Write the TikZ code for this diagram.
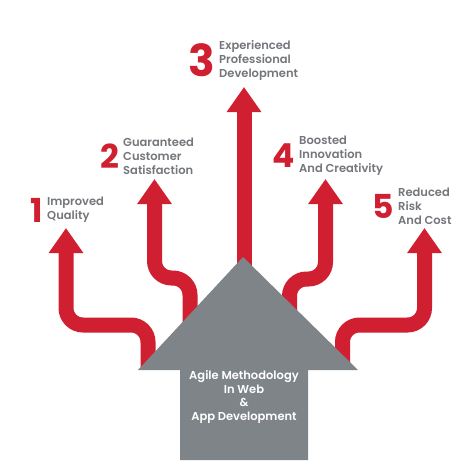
\documentclass[tikz,border=0pt]{standalone}
\usepackage{fontspec}
\setmainfont{Poppins}[BoldFont={Poppins SemiBold}]
\newfontfamily\cifrafont{Poppins Bold}
\usetikzlibrary{positioning}
\usetikzlibrary{arrows.meta}
\definecolor{agred}{HTML}{D01F30}
\definecolor{aggrey}{HTML}{7F8489}
\definecolor{agtext}{HTML}{73767A}

\begin{document}
\begin{tikzpicture}[x=1pt,y=-1pt,ramo/.style={draw=agred,line width=15pt,rounded corners=17pt,-{Triangle[width=33pt,length=25pt]}},cifra/.style={text=agred,font=\cifrafont\fontsize{33}{33}\selectfont,inner sep=0pt,outer sep=0pt,node distance=4pt},voce/.style={text=agtext,font=\bfseries\fontsize{11.5}{14}\selectfont,align=left,inner sep=0pt,anchor=west}]
        \useasboundingbox (0,0) rectangle (474,474);
        %
        \coordinate (b1) at (148,369);
        \coordinate (b2) at (190,330);
        \coordinate (b3) at (244,268);
        \coordinate (b4) at (289.5,330);
        \coordinate (b5) at (342.5,369);
        %
        \coordinate (p1) at (66,228);
        \coordinate (p2) at (154.5,179);
        \coordinate (p3) at (244,87);
        \coordinate (p4) at (325.5,179);
        \coordinate (p5) at (424.5,228);
        %
        \draw[ramo] (b1) -- (148,325) -- (66,325) -- (p1);
        \draw[ramo] (b2) -- (190,278) -- (154.5,278) -- (p2);
        \draw[ramo] (b3) -- (p3);
        \draw[ramo] (b4) -- (289.5,279) -- (325.5,279) -- (p4);
        \draw[ramo] (b5) -- (342.5,325) -- (424.5,325) -- (p5);
        %
        \fill[aggrey] (243,257) -- (358,370) -- (308,370) -- (308,460) -- (180,460) -- (180,370) -- (138,370) -- cycle;
        \node[text=white,font=\bfseries\fontsize{11.5}{13.7}\selectfont,align=center,inner sep=0pt](centro) at (244,397){Agile Methodology\\In Web\\\&\\App Development};
        %
        \node[voce](t1) at (47,210){Improved\\Quality};
        \node[cifra,left=of t1](n1){1};
        \node[voce](t2) at (123,156){Guaranteed\\Customer\\Satisfaction};
        \node[cifra,left=of t2](n2){2};
        \node[voce](t3) at (219,60.5){Experienced\\Professional\\Development};
        \node[cifra,left=of t3,font=\cifrafont\fontsize{44}{44}\selectfont](n3){3};
        \node[voce](t4) at (299,156){Boosted\\Innovation\\And Creativity};
        \node[cifra,left=of t4](n4){4};
        \node[voce](t5) at (398,206){Reduced\\Risk\\And Cost};
        \node[cifra,left=of t5](n5){5};
    \end{tikzpicture}
\end{document}
